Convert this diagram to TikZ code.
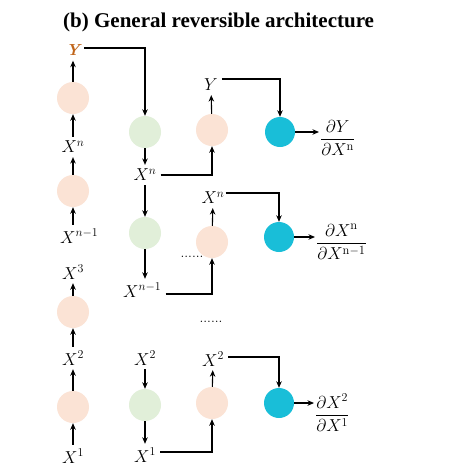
\documentclass[tikz,border=0pt]{standalone}
\usepackage{fontspec}
\newfontfamily\titlefont{Liberation Serif}
\usetikzlibrary{arrows.meta}
\definecolor{pinkc}{HTML}{FBE3D5}
\definecolor{greenc}{HTML}{E1EFD9}
\definecolor{cyanc}{HTML}{19BED8}
\definecolor{orangey}{HTML}{C0651A}
\begin{document}
\begin{tikzpicture}[x=1pt,y=-1pt,
  bub/.style={circle,minimum size=32pt,inner sep=0pt},
  pk/.style={bub,fill=pinkc},
  gr/.style={bub,fill=greenc},
  cy/.style={circle,minimum size=30pt,inner sep=0pt,fill=cyanc},
  lab/.style={inner xsep=4pt,inner ysep=4pt,font=\fontsize{18}{21}\selectfont},
  fracnode/.style={inner xsep=1pt,inner ysep=1pt,anchor=west,font=\fontsize{18}{21}\selectfont},
  dots/.style={inner sep=0pt,anchor=base,font=\fontsize{14}{16}\selectfont},
  arr/.style={-{Stealth[length=6.5pt,width=5.5pt]},line width=1.1pt},
  ttl/.style={anchor=base west,inner sep=0pt,font=\titlefont\bfseries\fontsize{21}{24}\selectfont}]
\useasboundingbox (0,0) rectangle (474,474);
\fill[white] (0,0) rectangle (474,474);
% title
\node[ttl] (title) at (63,27) {(b) General reversible architecture};
% column 1
\node[lab,inner ysep=5pt,text=orangey,font=\fontsize{16}{19}\selectfont\bfseries\itshape] (yo) at (73,50) {Y};
\node[pk] (p1a) at (73,98) {};
\node[lab] (lxn1) at (73,147) {$X^{n}$};
\node[pk] (p1b) at (73,191) {};
\node[lab,anchor=west] (lxnm1) at (56,236) {$X^{n-1}$};
\node[lab] (lx3) at (73,272) {$X^{3}$};
\node[pk] (p1c) at (73,312) {};
\node[lab] (lx2a) at (73,358) {$X^{2}$};
\node[pk] (p1d) at (73,407) {};
\node[lab] (lx1a) at (73,456) {$X^{1}$};
% column 2
\node[gr] (g1) at (145,132) {};
\node[lab] (lxn2) at (145,175) {$X^{n}$};
\node[gr] (g2) at (145,233) {};
\node[lab,anchor=west] (lxnm2) at (119,290) {$X^{n-1}$};
\node[lab] (lx2b) at (145,358) {$X^{2}$};
\node[gr] (g3) at (145,405) {};
\node[lab] (lx1b) at (145,455) {$X^{1}$};
% column 3
\node[lab] (y3) at (211,85) {$Y$};
\node[pk] (p3a) at (212,130) {};
\node[lab] (lxn3) at (213,198) {$X^{n}$};
\node[pk] (p3b) at (212,242) {};
\node[dots] (dots1) at (192,257) {......};
\node[dots] (dots2) at (211,322) {......};
\node[lab] (lx2c) at (213,359) {$X^{2}$};
\node[pk] (p3c) at (212,403) {};
% column 4
\node[cy] (cy1) at (280,132) {};
\node[cy] (cy2) at (279,237) {};
\node[cy] (cy3) at (279,403) {};
\node[fracnode] (f1) at (319,138) {$\displaystyle\frac{\partial Y}{\partial X^{\mathrm{n}}}$};
\node[fracnode] (f2) at (315,242) {$\displaystyle\frac{\partial X^{\mathrm{n}}}{\partial X^{\mathrm{n-1}}}$};
\node[fracnode] (f3) at (314,413) {$\displaystyle\frac{\partial X^{2}}{\partial X^{1}}$};
% column 1 arrows
\draw[arr] (p1a) -- (yo);
\draw[arr] (lxn1) -- (p1a);
\draw[arr] (p1b) -- (lxn1);
\draw[arr] (lxnm1.north -| p1b) -- (p1b);
\draw[arr] (p1c) -- (lx3);
\draw[arr] (lx2a) -- (p1c);
\draw[arr] (p1d) -- (lx2a);
\draw[arr] (lx1a) -- (p1d);
% column 2 arrows
\draw[arr] ([yshift=2pt]yo.east) -| (g1);
\draw[arr] (g1) -- (lxn2);
\draw[arr] (lxn2) -- (g2);
\draw[arr] (g2) -- (lxnm2.north -| g2);
\draw[arr] (lxn2.east) -| (p3a);
\draw[arr] ([yshift=-4pt]lxnm2.east) -| (p3b);
\draw[arr] (lx2b) -- (g3);
\draw[arr] (g3) -- (lx1b);
\draw[arr] ([yshift=3pt]lx1b.east) -| (p3c);
% column 3 arrows
\draw[arr] (p3a) -- (y3);
\draw[arr] (p3b) -- (lxn3);
\draw[arr] (p3c) -- (lx2c);
\draw[arr] ([yshift=6pt]y3.east) -| (cy1);
\draw[arr] ([yshift=5pt,xshift=-3pt]lxn3.east) -| (cy2);
\draw[arr] ([yshift=2pt]lx2c.east) -| (cy3);
% to fractions
\draw[arr] (cy1) -- (cy1 -| f1.west);
\draw[arr] (cy2) -- (cy2 -| f2.west);
\draw[arr] (cy3) -- (cy3 -| f3.west);
\end{tikzpicture}
\end{document}
